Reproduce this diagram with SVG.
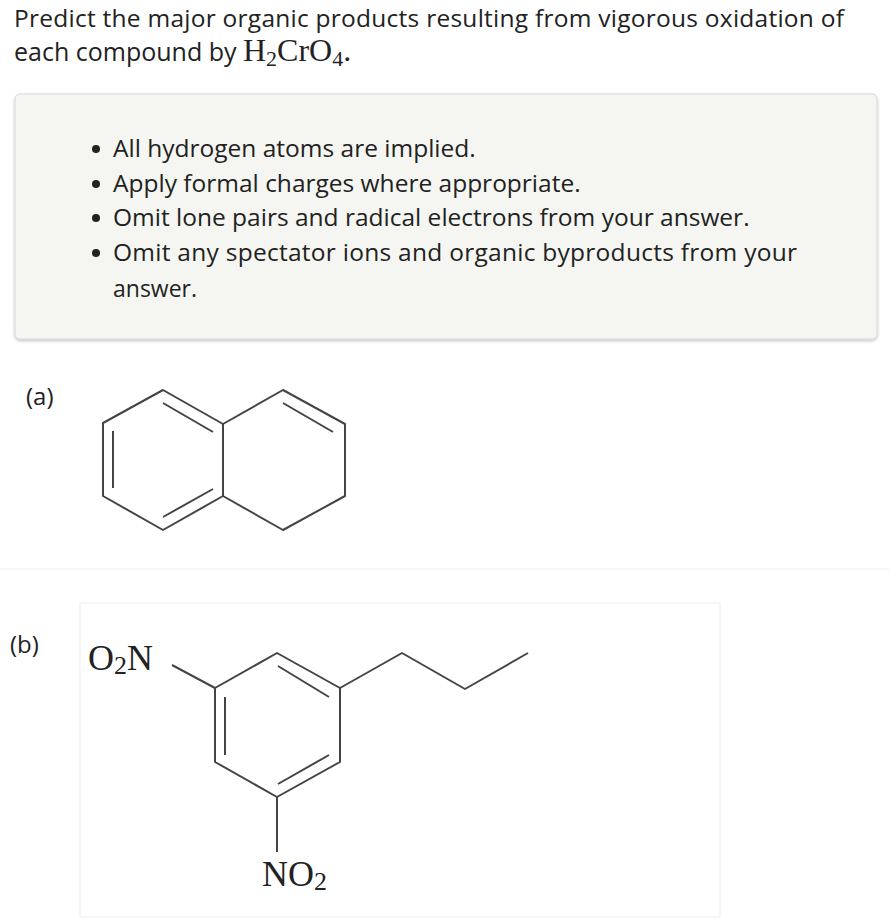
<svg xmlns="http://www.w3.org/2000/svg" width="889" height="919" viewBox="0 0 889 919">
<defs>
<style>
.t{font-family:"Open Sans","Noto Sans",sans-serif;fill:#222}
.b{stroke:#444;stroke-width:2;fill:none;stroke-linejoin:round}
.s{font-family:"Liberation Serif","DejaVu Serif",serif;fill:#222}
</style>
<filter id="sh" x="-5%" y="-5%" width="110%" height="115%"><feDropShadow dx="0" dy="1.5" stdDeviation="1.5" flood-color="#000" flood-opacity="0.25"/></filter>
</defs>
<rect width="889" height="919" fill="#fff"/>
<g id="title">
<text class="t" x="14" y="27" font-size="24.5" textLength="830">Predict the major organic products resulting from vigorous oxidation of</text>
<text class="t" x="14" y="61" font-size="25">each compound by <tspan class="s" font-size="32">H<tspan font-size="22" dy="5">2</tspan><tspan dy="-5">CrO</tspan><tspan font-size="22" dy="5">4</tspan><tspan dy="-5">.</tspan></tspan></text>
</g>
<g id="instructions">
<rect x="15" y="94" width="862" height="245" rx="5" fill="#f5f6f1" stroke="#d8d8d8" filter="url(#sh)"/>
<g class="t" font-size="24.5">
<circle cx="96" cy="149" r="4" fill="#222"/><text x="113" y="157">All hydrogen atoms are implied.</text>
<circle cx="96" cy="184" r="4" fill="#222"/><text x="113" y="192">Apply formal charges where appropriate.</text>
<circle cx="96" cy="218" r="4" fill="#222"/><text x="113" y="226">Omit lone pairs and radical electrons from your answer.</text>
<circle cx="96" cy="253" r="4" fill="#222"/><text x="113" y="261" textLength="684">Omit any spectator ions and organic byproducts from your</text>
<text x="113" y="297" font-size="23">answer.</text>
</g>
</g>
<g id="label-a"><text class="t" x="26" y="405" font-size="24">(a)</text></g>
<g id="mol-a">
<path class="b" d="M163,390 L103,423 L103,496 L163,530 L223,496 L223,424 Z M223,424 L283,390 L345,424 L345,496 L283,530 L223,496"/>
<path class="b" d="M163,403 L213,432 M113,431 L113,488 M163,517 L213,489 M283,403 L333,432"/>
</g>
<line x1="0" y1="569" x2="889" y2="569" stroke="#eee" stroke-width="1"/>
<rect x="80" y="603" width="640" height="314" fill="none" stroke="#eee" stroke-width="1"/>
<g id="label-b"><text class="t" x="10" y="653" font-size="24">(b)</text></g>
<g id="mol-b">
<path class="b" d="M277,653 L340,688 L340,762 L277,797 L215,762 L215,688 Z M340,688 L402,653 L465,689 L528,653 M215,688 L172,665 M277,797 L277,852"/>
<path class="b" d="M278,666 L329,697 M225,697 L225,755 M278,784 L329,755"/>
<text class="s" x="88" y="670" font-size="36">O<tspan font-size="26" dy="4">2</tspan><tspan dy="-4">N</tspan></text>
<text class="s" x="262" y="886" font-size="36">NO<tspan font-size="26" dy="4">2</tspan></text>
</g>
</svg>
